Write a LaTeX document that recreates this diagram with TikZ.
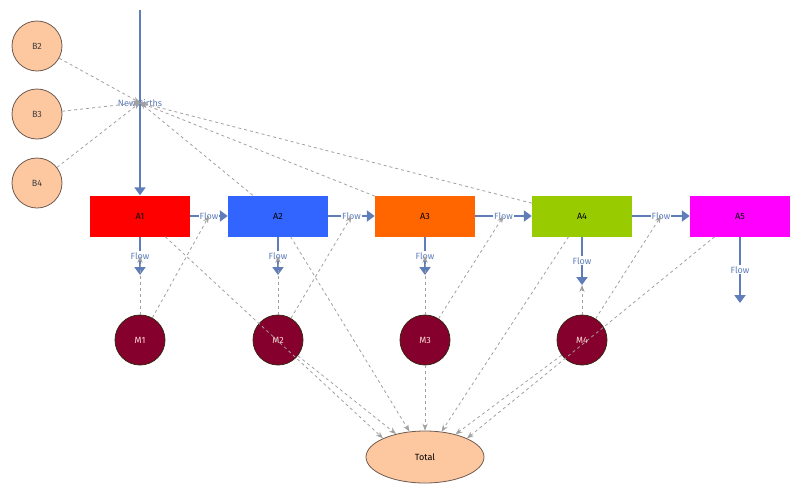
\documentclass[tikz,border=0pt]{standalone}
\usepackage{fontspec}
\setmainfont{Fira Sans}
\usetikzlibrary{arrows.meta,shapes.geometric}
\definecolor{fl}{RGB}{95,125,185}
\definecolor{peach}{RGB}{253,200,160}
\definecolor{brd}{RGB}{110,90,80}
\definecolor{dash}{RGB}{160,160,160}
\begin{document}
\begin{tikzpicture}[x=1pt,y=-1pt,
 stock/.style={rectangle,minimum width=100pt,minimum height=41pt,inner sep=0pt,font=\small},
 bub/.style={circle,draw=brd,thick,fill=peach,minimum size=50pt,inner sep=0pt,font=\small,text=black!75},
 mort/.style={circle,draw=black!70!brown,thick,fill=violet!60!black,fill=purple!70!black,minimum size=50pt,inner sep=0pt,font=\small,text=pink!60},
 flow/.style={line width=2.5pt,draw=fl,-{Triangle[length=8pt,width=11pt]}},
 lab/.style={font=\small,text=fl,fill=white,inner sep=1pt},
 dl/.style={draw=dash,thick,dashed,-{Stealth[length=7pt]}}]
\useasboundingbox (0,0) rectangle (800,493);
\node[bub] (B2) at (37,46) {B2};
\node[bub] (B3) at (37,114) {B3};
\node[bub] (B4) at (37,183) {B4};
\node[stock,fill=red] (A1) at (140,216) {A1};
\node[stock,fill=blue!60!cyan!80!white,fill={rgb,255:red,50;green,100;blue,255}] (A2) at (278,216) {A2};
\node[stock,fill={rgb,255:red,255;green,102;blue,0}] (A3) at (425,216) {A3};
\node[stock,fill={rgb,255:red,153;green,204;blue,0}] (A4) at (582,216) {A4};
\node[stock,fill={rgb,255:red,255;green,0;blue,255}] (A5) at (740,216) {A5};
\node[mort] (M1) at (140,340) {M1};
\node[mort] (M2) at (278,340) {M2};
\node[mort] (M3) at (425,340) {M3};
\node[mort] (M4) at (582,340) {M4};
\node[ellipse,draw=brd,thick,fill=peach,minimum width=118pt,minimum height=52pt,font=\small] (T) at (425,457) {Total};
\coordinate (top) at (140,10);
\coordinate (d1) at (140,275); \coordinate (d2) at (278,275);
\coordinate (d3) at (425,275); \coordinate (d4) at (582,285);
\coordinate (d5) at (740,303);
% flows
\draw[flow] (top) -- node[lab,pos=0.5,fill=none] (NB) {New Births} (A1);
\draw[flow] (A1) -- node[lab] (F12) {Flow} (A2);
\draw[flow] (A2) -- node[lab] (F23) {Flow} (A3);
\draw[flow] (A3) -- node[lab] (F34) {Flow} (A4);
\draw[flow] (A4) -- node[lab] (F45) {Flow} (A5);
\draw[flow] (A1) -- node[lab,pos=0.5] (V1) {Flow} (d1);
\draw[flow] (A2) -- node[lab,pos=0.5] (V2) {Flow} (d2);
\draw[flow] (A3) -- node[lab,pos=0.5] (V3) {Flow} (d3);
\draw[flow] (A4) -- node[lab,pos=0.5] (V4) {Flow} (d4);
\draw[flow] (A5) -- node[lab,pos=0.5] (V5) {Flow} (d5);
% info links
\foreach \s in {B2,B3,B4,A2,A3,A4} \draw[dl] (\s) -- (NB.center);
\draw[dl] (M1) -- (F12.center);
\draw[dl] (M2) -- (F23.center);
\draw[dl] (M3) -- (F34.center);
\draw[dl] (M4) -- (F45.center);
\draw[dl] (M1) -- (V1.center);
\draw[dl] (M2) -- (V2.center);
\draw[dl] (M3) -- (V3.center);
\draw[dl] (M4) -- (d4);
\draw[dl] (A1.south east)+(-25,0) -- (T.north west);
\draw[dl] (A2) -- (T);
\draw[dl] (M2) -- (T);
\draw[dl] (M3) -- (T);
\draw[dl] (A4) -- (T);
\draw[dl] (M4) -- (T);
\draw[dl] (A5) -- (T.north east);
\end{tikzpicture}
\end{document}
